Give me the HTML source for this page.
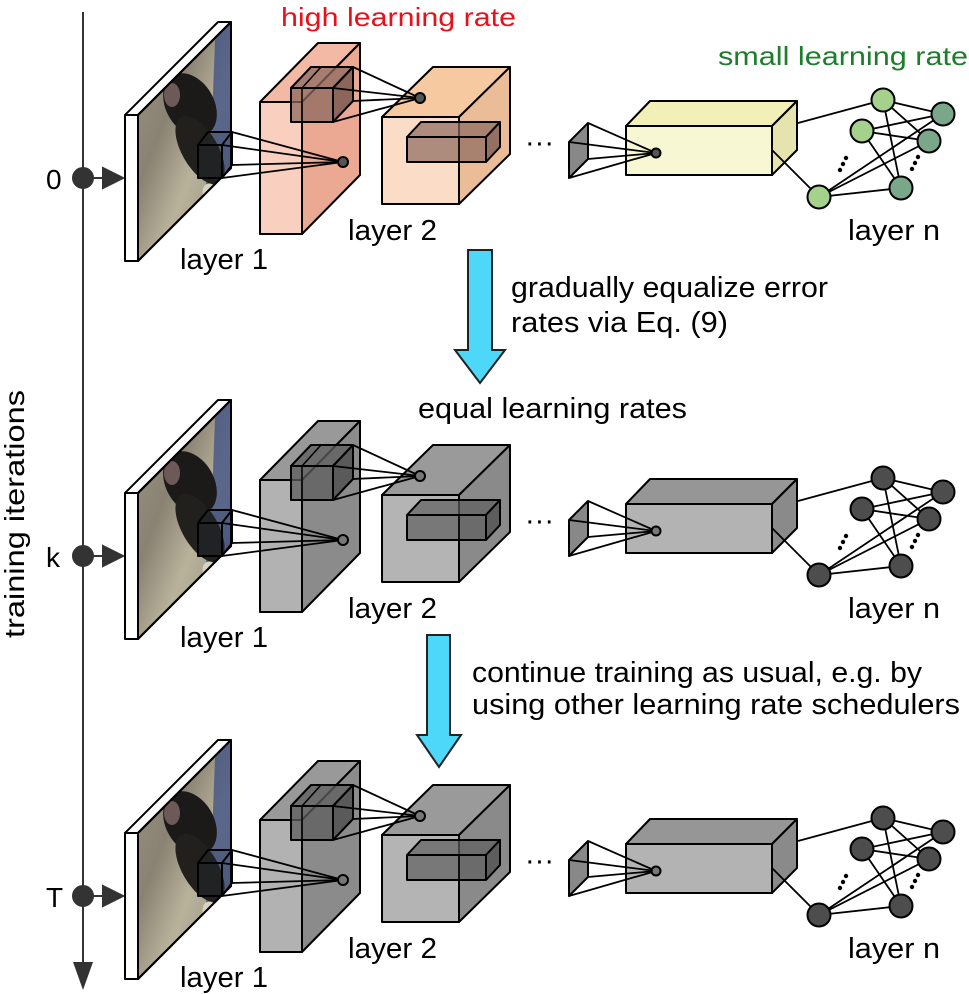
<!DOCTYPE html>
<html><head><meta charset="utf-8"><style>
html,body{margin:0;padding:0;background:#fff}
svg{display:block}
text{font-family:"Liberation Sans",Arial,sans-serif}
.r1{--l1f:#f9cfbf;--l1t:#f4b9a5;--l1s:#eba893;--l2f:#fbdcc6;--l2t:#f7c9a1;--l2s:#eabd98;--cf:#8c6a5e;--cs:#6e5048;--yf:#f7f7d4;--yt:#f2f0b6;--ys:#e6e4ae;--n1:#a4d18c;--n2:#7aa68a;--dot:#555}
.r2{--l1f:#b2b2b2;--l1t:#999;--l1s:#8b8b8b;--l2f:#b4b4b4;--l2t:#9a9a9a;--l2s:#8a8a8a;--cf:#5e5e5e;--cs:#4a4a4a;--yf:#b3b3b3;--yt:#969696;--ys:#8a8a8a;--n1:#4d4d4d;--n2:#4d4d4d;--dot:#777}
</style></head><body>
<svg width="969" height="994" viewBox="0 0 969 994" xmlns="http://www.w3.org/2000/svg">
<defs>
<linearGradient id="img" x1="0" y1="0" x2="1" y2="1">
<stop offset="0" stop-color="#9a9585"/><stop offset="0.35" stop-color="#8a8272"/><stop offset="0.6" stop-color="#b9b29b"/><stop offset="1" stop-color="#8d8a7a"/>
</linearGradient>
<clipPath id="pc"><polygon points="138,115 231,22 231,168 138,261"/></clipPath>
<g id="row" stroke="#000" stroke-width="2" stroke-linejoin="round">
  <polygon points="125,115 218,22 231,22 138,115" fill="#fff"/>
  <rect x="125" y="115" width="13" height="146" fill="#fff"/>
  <polygon points="138,115 231,22 231,168 138,261" fill="url(#img)"/>
  <g clip-path="url(#pc)" stroke="none">
    <polygon points="215,40 231,22 231,168 205,195 212,120" fill="#3b4f85" opacity="0.75"/>
    <ellipse cx="190" cy="105" rx="24" ry="34" fill="#1c1a18" transform="rotate(-30 190 105)"/>
    <ellipse cx="200" cy="150" rx="18" ry="38" fill="#22201d" transform="rotate(-30 200 150)"/>
    <ellipse cx="172" cy="95" rx="8" ry="12" fill="#6d5a58"/>
    <ellipse cx="215" cy="200" rx="10" ry="18" fill="#d8d3c0" transform="rotate(-30 215 200)"/>
  </g>
  <polygon points="138,115 231,22 231,168 138,261" fill="none"/>
  <polygon points="198,145 208,132 232,132 232,165 222,178 198,178" fill="#24304a" fill-opacity="0.15"/>
  <polyline points="198,145 222,145 222,178" fill="none"/>
  <line x1="222" y1="145" x2="232" y2="132"/>
  <polygon points="260,102 318,43 360,43 302,102" style="fill:var(--l1t)"/>
  <polygon points="302,102 360,43 360,175 302,234" style="fill:var(--l1s)"/>
  <rect x="260" y="102" width="42" height="132" style="fill:var(--l1f)"/>
  <g stroke-width="1.8"><line x1="232" y1="132" x2="343" y2="162"/><line x1="222" y1="145" x2="343" y2="162"/><line x1="232" y1="165" x2="343" y2="162"/><line x1="222" y1="178" x2="343" y2="162"/></g>
  <circle cx="343" cy="162" r="5" style="fill:var(--dot)"/>
  <g style="fill:var(--cf)" fill-opacity="0.75">
  <polygon points="291,88 311,67 353,67 333,88"/>
  <polygon points="333,88 353,67 353,101 333,122" style="fill:var(--cs)"/>
  <rect x="291" y="88" width="42" height="34"/>
  </g>
  <line x1="302" y1="88" x2="302" y2="122" stroke-width="1.5"/>
  <line x1="302" y1="88" x2="321" y2="67" stroke-width="1.5"/>
  <polygon points="382,117 433,67 510,67 459,117" style="fill:var(--l2t)"/>
  <polygon points="459,117 510,67 510,154 459,204" style="fill:var(--l2s)"/>
  <rect x="382" y="117" width="77" height="87" style="fill:var(--l2f)"/>
  <g stroke-width="1.8"><line x1="353" y1="67" x2="420" y2="98"/><line x1="333" y1="88" x2="420" y2="98"/><line x1="353" y1="101" x2="420" y2="98"/><line x1="333" y1="122" x2="420" y2="98"/></g>
  <circle cx="420" cy="98" r="5" style="fill:var(--dot)"/>
  <g style="fill:var(--cf)" fill-opacity="0.7">
  <polygon points="407,137 421,122 500,122 486,137"/>
  <polygon points="486,137 500,122 500,147 486,162" style="fill:var(--cs)"/>
  <rect x="407" y="137" width="79" height="25"/>
  </g>
  <line x1="459" y1="137" x2="459" y2="162" stroke-width="1.5"/>
  <polygon points="569,142 588,123 588,159 569,178" fill="#888"/>
  <polygon points="626,126 650,101 797,101 772,126" style="fill:var(--yt)"/>
  <polygon points="772,126 797,101 797,150 772,175" style="fill:var(--ys)"/>
  <rect x="626" y="126" width="146" height="49" style="fill:var(--yf)"/>
  <g stroke-width="1.8"><line x1="588" y1="123" x2="656" y2="153"/><line x1="569" y1="142" x2="656" y2="153"/><line x1="588" y1="159" x2="656" y2="153"/><line x1="569" y1="178" x2="656" y2="153"/></g>
  <circle cx="656" cy="153" r="4.5" style="fill:var(--dot)"/>
  <g stroke-width="1.8">
  <line x1="798" y1="123" x2="883" y2="100"/><line x1="772" y1="150" x2="819" y2="197"/>
  <line x1="883" y1="100" x2="943" y2="114"/><line x1="883" y1="100" x2="929" y2="141"/><line x1="883" y1="100" x2="901" y2="188"/>
  <line x1="862" y1="131" x2="943" y2="114"/><line x1="862" y1="131" x2="929" y2="141"/><line x1="862" y1="131" x2="901" y2="188"/>
  <line x1="819" y1="197" x2="943" y2="114"/><line x1="819" y1="197" x2="929" y2="141"/><line x1="819" y1="197" x2="901" y2="188"/>
  </g>
  <g style="fill:var(--n1)"><circle cx="883" cy="100" r="11.5"/><circle cx="862" cy="131" r="11.5"/><circle cx="819" cy="197" r="11.5"/></g>
  <g style="fill:var(--n2)"><circle cx="943" cy="114" r="11.5"/><circle cx="929" cy="141" r="11.5"/><circle cx="901" cy="188" r="11.5"/></g>
  <g stroke="none" fill="#000"><circle cx="846" cy="158" r="2.2"/><circle cx="843" cy="164" r="2.2"/><circle cx="840" cy="170" r="2.2"/><circle cx="918" cy="157" r="2.2"/><circle cx="915" cy="163" r="2.2"/><circle cx="912" cy="169" r="2.2"/></g>
  <g stroke="none" fill="#000" font-size="29">
  <text x="525" y="152">···</text>
  <text x="180" y="269" textLength="88" lengthAdjust="spacingAndGlyphs">layer 1</text>
  <text x="348" y="240" textLength="89" lengthAdjust="spacingAndGlyphs">layer 2</text>
  <text x="848" y="240" textLength="92" lengthAdjust="spacingAndGlyphs">layer n</text>
  </g>
</g>
</defs>
<line x1="83" y1="12" x2="83" y2="965" stroke="#333" stroke-width="2"/>
<polygon points="73,962 93,962 83,990" fill="#333"/>
<g fill="#333" stroke="#333" stroke-width="2">
<circle cx="83" cy="178" r="10"/><line x1="83" y1="178" x2="105" y2="178"/><polygon points="103,168 123,178 103,188"/>
<circle cx="83" cy="556" r="10"/><line x1="83" y1="556" x2="105" y2="556"/><polygon points="103,546 123,556 103,566"/>
<circle cx="83" cy="896" r="10"/><line x1="83" y1="896" x2="105" y2="896"/><polygon points="103,886 123,896 103,906"/>
</g>
<g font-size="28" fill="#000">
<text x="46" y="189">0</text><text x="46" y="567">k</text><text x="46" y="907">T</text>
<text transform="translate(24,514) rotate(-90)" text-anchor="middle" textLength="248" lengthAdjust="spacingAndGlyphs">training iterations</text>
</g>
<use href="#row" class="r1"/>
<use href="#row" class="r2" transform="translate(0,378)"/>
<use href="#row" class="r2" transform="translate(0,718)"/>
<text x="281" y="26" font-size="26" fill="#e8111a" textLength="235" lengthAdjust="spacingAndGlyphs">high learning rate</text>
<text x="718" y="65" font-size="26" fill="#1e7d2a" textLength="250" lengthAdjust="spacingAndGlyphs">small learning rate</text>
<polygon points="468,250 492,250 492,350 505,350 480,383 455,350 468,350" fill="#4dd7f8" stroke="#222" stroke-width="2"/>
<polygon points="427,635 450,635 450,735 461,735 439,767 417,735 427,735" fill="#4dd7f8" stroke="#222" stroke-width="2"/>
<g font-size="29" fill="#000">
<text x="511" y="297" textLength="317" lengthAdjust="spacingAndGlyphs">gradually equalize error</text>
<text x="511" y="332" textLength="217" lengthAdjust="spacingAndGlyphs">rates via Eq. (9)</text>
<text x="418" y="418" textLength="269" lengthAdjust="spacingAndGlyphs">equal learning rates</text>
<text x="472" y="682" textLength="450" lengthAdjust="spacingAndGlyphs">continue training as usual, e.g. by</text>
<text x="472" y="714" textLength="488" lengthAdjust="spacingAndGlyphs">using other learning rate schedulers</text>
</g>
</svg>
</body></html>
